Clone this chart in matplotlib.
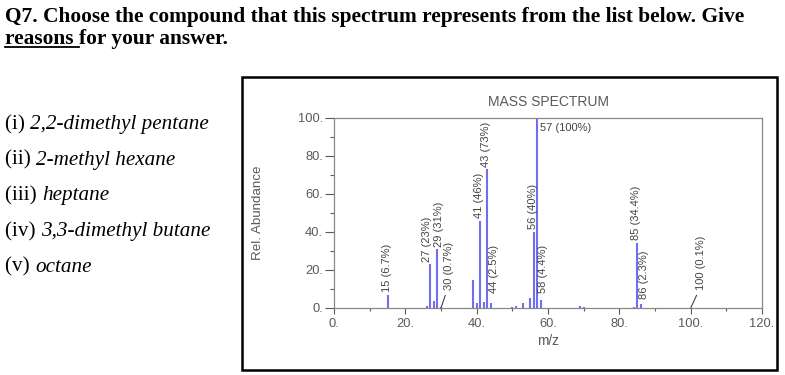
import matplotlib
matplotlib.use("Agg")
import matplotlib.pyplot as plt
from matplotlib.patches import Rectangle

# peaks (m/z, relative abundance %)
mz = [15, 26, 27, 28, 29, 30, 39, 40, 41, 42, 43, 44, 50, 51, 53,
      55, 56, 57, 58, 69, 70, 84, 85, 86, 100]
abundance = [6.7, 0.8, 23, 3.7, 31, 0.7, 15, 2.4, 46, 3.0, 73, 2.5, 0.3, 0.8, 2.8,
             5.5, 40, 100, 4.4, 1.0, 0.4, 0.6, 34.4, 2.3, 0.1]
labelled = [15, 27, 29, 30, 41, 43, 44, 56, 57, 58, 85, 86, 100]

x_ticks = [0, 20, 40, 60, 80, 100, 120]
y_ticks = [0, 20, 40, 60, 80, 100]

question = ["Q7. Choose the compound that this spectrum represents from the list below. Give",
            "reasons ", "for your answer."]
options = ["(i) ", "(ii) ", "(iii) ", "(iv) ", "(v) "]
compounds = ["2,2-dimethyl pentane", "2-methyl hexane", "heptane",
             "3,3-dimethyl butane", "octane"]

# label offsets in points (dx, dy), default is just above the peak
label_offsets = {27: (-2.4, 1.5), 29: (1.2, 1.5), 30: (5.8, 13.0),
                 44: (2.2, 7.2), 58: (1.4, 4.8), 86: (2.2, 3.3),
                 100: (7.5, 13.0), 57: (1.8, -7.2)}
leader = [30, 100]

W, H = 785, 375
fig = plt.figure(figsize=(W / 100, H / 100), dpi=100)

serif = "Liberation Serif"
sans = "Liberation Sans"
gray = "#5a5a5a"
peak_color = "#6f6ff0"
head_size = 15.4
item_size = 15.2


def fx(px):
    return px / W


def fy(py):
    return 1 - py / H


# header text
fig.text(fx(5), fy(22), question[0], family=serif, weight="bold",
         fontsize=head_size, va="baseline", ha="left")
t2 = fig.text(fx(5), fy(44), question[1], family=serif, weight="bold",
              fontsize=head_size, va="baseline", ha="left")
fig.canvas.draw()
r = fig.canvas.get_renderer()
bb = t2.get_window_extent(r)
fig.add_artist(plt.Line2D([fx(bb.x0), fx(bb.x1)], [fy(47), fy(47)],
                          color="black", lw=1.3))
fig.text(bb.x1 / W, fy(44), question[2], family=serif, weight="bold",
         fontsize=head_size, va="baseline", ha="left")

# list of candidate compounds
for i, (opt, name) in enumerate(zip(options, compounds)):
    y = fy(129 + i * 35.7)
    t = fig.text(fx(5), y, opt, family=serif, fontsize=item_size, va="baseline")
    fig.canvas.draw()
    b = t.get_window_extent(fig.canvas.get_renderer())
    fig.text(b.x1 / W, y, name, family=serif, style="italic", fontsize=item_size,
             va="baseline")

# frame around the spectrum
fig.add_artist(Rectangle((fx(242), fy(370)), fx(777 - 242), (370 - 77) / H,
                         fill=False, ec="black", lw=1.8))

ax = fig.add_axes([fx(334), fy(308), fx(762 - 334), (308 - 118) / H])
ax.vlines(mz, 0, abundance, color=peak_color, lw=1.5)
ax.set_xlim(0, 120)
ax.set_ylim(0, 100)

ax.set_xticks(x_ticks)
ax.set_xticklabels([f"{v}." for v in x_ticks])
ax.set_yticks(y_ticks)
ax.set_yticklabels([f"{v}." for v in y_ticks])
ax.set_xticks(range(10, 120, 20), minor=True)
ax.set_yticks(range(10, 100, 20), minor=True)
ax.tick_params(axis="y", which="major", length=6.5, width=0.8, color=gray,
               labelcolor=gray, labelsize=9.3, pad=1.5)
ax.tick_params(axis="y", which="minor", length=3, width=0.8, color=gray)
ax.tick_params(axis="x", which="major", length=4, width=0.8, color=gray,
               labelcolor=gray, labelsize=9.3, pad=3)
ax.tick_params(axis="x", which="minor", length=2, width=0.8, color=gray)
for lab in ax.get_xticklabels() + ax.get_yticklabels():
    lab.set_family(sans)
for s in ax.spines.values():
    s.set_color("#888888")
    s.set_linewidth(0.9)

ax.set_title("MASS SPECTRUM", family=sans, fontsize=10, color=gray, pad=9)
ax.set_xlabel("m/z", family=sans, fontsize=9.8, color=gray, labelpad=3)
ax.set_ylabel("Rel. Abundance", family=sans, fontsize=9.6, color=gray, labelpad=24)

for m in labelled:
    a = abundance[mz.index(m)]
    txt = f"{m} ({a:g}%)"
    if m == 57:
        dx, dy = label_offsets[m]
        ax.annotate(txt, (m, a), xytext=(dx, dy), textcoords="offset points",
                    ha="left", va="center", fontsize=8, family=sans,
                    color="#444444")
        continue
    dx, dy = label_offsets.get(m, (-0.7, 2.0))
    arrow = None
    if m in leader:
        arrow = dict(arrowstyle="-", color="#444444", lw=0.8, relpos=(0.3, 0),
                     shrinkA=2, shrinkB=0)
        a = 0
    ax.annotate(txt, (m, a), xytext=(dx, dy), textcoords="offset points",
                rotation=90, ha="center", va="bottom", fontsize=8, family=sans,
                color="#444444", arrowprops=arrow)

fig.savefig("out.png", dpi=100)
